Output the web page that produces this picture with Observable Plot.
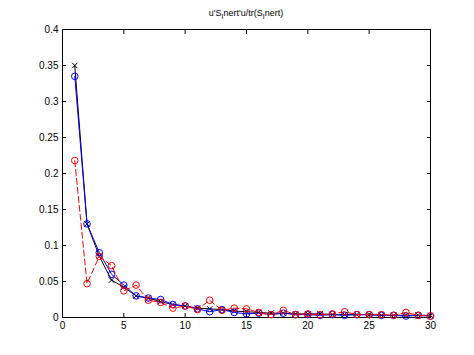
<!DOCTYPE html>
<html>
<head>
<meta charset="utf-8">
<script src="https://cdn.jsdelivr.net/npm/d3@7"></script>
<script src="https://cdn.jsdelivr.net/npm/@observablehq/plot@0.6"></script>
<style>
  html, body { margin: 0; padding: 0; background: #fff; }
  #chart { width: 474px; height: 355px; }
</style>
</head>
<body>
<div id="chart"></div>
<script>
const xs = d3.range(1, 31);
const blackVals = [0.350, 0.130, 0.085, 0.052, 0.042, 0.030, 0.027, 0.022, 0.018, 0.016,
                   0.013, 0.012, 0.011, 0.009, 0.008, 0.007, 0.006, 0.006, 0.005, 0.005,
                   0.005, 0.004, 0.004, 0.004, 0.004, 0.003, 0.003, 0.003, 0.003, 0.003];
const blueVals  = [0.335, 0.130, 0.090, 0.060, 0.045, 0.030, 0.027, 0.025, 0.018, 0.016,
                   0.012, 0.008, 0.011, 0.007, 0.005, 0.006, 0.004, 0.006, 0.004, 0.004,
                   0.003, 0.004, 0.003, 0.004, 0.004, 0.003, 0.003, 0.002, 0.003, 0.002];
const redVals   = [0.218, 0.047, 0.085, 0.072, 0.037, 0.045, 0.024, 0.021, 0.013, 0.016,
                   0.011, 0.024, 0.010, 0.013, 0.012, 0.007, 0.004, 0.010, 0.004, 0.005,
                   0.004, 0.005, 0.008, 0.004, 0.004, 0.004, 0.003, 0.007, 0.003, 0.002];
const xTicks = [0, 5, 10, 15, 20, 25, 30];
const yTicks = [0, 0.05, 0.1, 0.15, 0.2, 0.25, 0.3, 0.35, 0.4];
const titleParts = [["u'S", false], ["I", true], ["nert'u/tr(S", false], ["I", true], ["nert)", false]];

const black = xs.map((x, i) => ({x, y: blackVals[i]}));
const blue = xs.map((x, i) => ({x, y: blueVals[i]}));
const red = xs.map((x, i) => ({x, y: redVals[i]}));

const font = "Liberation Sans, Arial, sans-serif";
const plot = Plot.plot({
  width: 474,
  height: 355,
  marginLeft: 62,
  marginRight: 44,
  marginTop: 29,
  marginBottom: 38,
  style: {fontFamily: font, fontSize: "10px", color: "#000", background: "#fff"},
  x: {domain: [0, 30], ticks: xTicks},
  y: {domain: [0, 0.4], ticks: yTicks},
  marks: [
    Plot.axisX({anchor: "bottom", ticks: xTicks, tickSize: -4, tickPadding: 8, label: null, fontSize: 10, tickFormat: d => d}),
    Plot.axisX({anchor: "top", ticks: xTicks, tickSize: -4, tickFormat: () => "", label: null}),
    Plot.axisY({anchor: "left", ticks: yTicks, tickSize: -4, tickPadding: 8, label: null, fontSize: 10, tickFormat: d => String(+d.toFixed(2))}),
    Plot.axisY({anchor: "right", ticks: yTicks, tickSize: -4, tickFormat: () => "", label: null}),
    Plot.frame({stroke: "#000", strokeWidth: 1}),
    Plot.line(black, {x: "x", y: "y", stroke: "#000", strokeWidth: 1}),
    Plot.dot(black, {x: "x", y: "y", symbol: "times", r: 2.6, stroke: "#000", strokeWidth: 1}),
    Plot.line(blue, {x: "x", y: "y", stroke: "#0000ff", strokeWidth: 1}),
    Plot.dot(blue, {x: "x", y: "y", r: 3.3, stroke: "#0000ff", strokeWidth: 1}),
    Plot.line(red, {x: "x", y: "y", stroke: "#ff0000", strokeWidth: 1, strokeDasharray: "6,3"}),
    Plot.dot(red, {x: "x", y: "y", r: 3.3, stroke: "#ff0000", strokeWidth: 1})
  ]
});
const svg = d3.select(plot);
const t = svg.append("text")
  .attr("x", 246).attr("y", 16)
  .attr("text-anchor", "middle")
  .attr("font-family", font)
  .attr("font-size", 9)
  .attr("fill", "#000");
let shifted = false;
for (const [s, sub] of titleParts) {
  const ts = t.append("tspan").text(s);
  if (sub && !shifted) { ts.attr("dy", 3).attr("font-size", 7); shifted = true; }
  else if (!sub && shifted) { ts.attr("dy", -3); shifted = false; }
}
document.getElementById("chart").appendChild(plot);
</script>
</body>
</html>
